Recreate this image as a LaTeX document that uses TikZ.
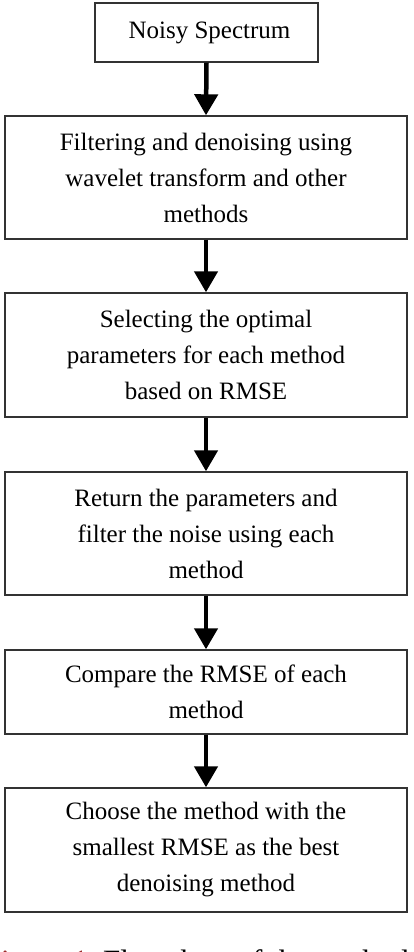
\documentclass[tikz,border=0pt]{standalone}
\usepackage{fontspec}
\setmainfont{Liberation Serif}
\usetikzlibrary{arrows.meta}
\definecolor{capred}{HTML}{9B2B2B}
\tikzset{
  box/.style={draw=black!80, line width=1.4pt, fill=white, align=center,
    inner sep=0pt, font=\fontsize{25}{36}\selectfont},
  flow/.style={line width=4.5pt, -{Triangle[width=23pt,length=21pt]}}
}
\begin{document}
\begin{tikzpicture}[x=1pt,y=-1pt]
\useasboundingbox[fill=white] (0,0) rectangle (414,952);
\node[box, minimum width=223pt, minimum height=59pt] (n1) at (206.5,32.5) {\hspace*{6pt}Noisy Spectrum};
\node[box, minimum width=402pt, minimum height=123pt] (n2) at (206,177.5)
  {Filtering and denoising using\\wavelet transform and other\\methods};
\node[box, minimum width=402pt, minimum height=124pt] (n3) at (206,355)
  {Selecting the optimal\\parameters for each method\\based on RMSE};
\node[box, minimum width=402pt, minimum height=123pt] (n4) at (206,533.5)
  {Return the parameters and\\filter the noise using each\\method};
\node[box, minimum width=402pt, minimum height=84pt] (n5) at (206,692)
  {Compare the RMSE of each\\method};
\node[box, minimum width=402pt, minimum height=124pt] (n6) at (206,850)
  {Choose the method with the\\smallest RMSE as the best\\denoising method};
\draw[flow] (n1.south) -- (n2.north);
\draw[flow] (n2.south) -- (n3.north);
\draw[flow] (n3.south) -- (n4.north);
\draw[flow] (n4.south) -- (n5.north);
\draw[flow] (n5.south) -- (n6.north);
\node[anchor=base east, inner sep=0pt, text=capred, font=\fontsize{31}{36}\selectfont] (capa) at (96,971) {Figure 1.};
\node[anchor=base west, inner sep=0pt, font=\fontsize{31}{36}\selectfont] (capb) at (103,971) {Flowchart of the method};
\end{tikzpicture}
\end{document}
